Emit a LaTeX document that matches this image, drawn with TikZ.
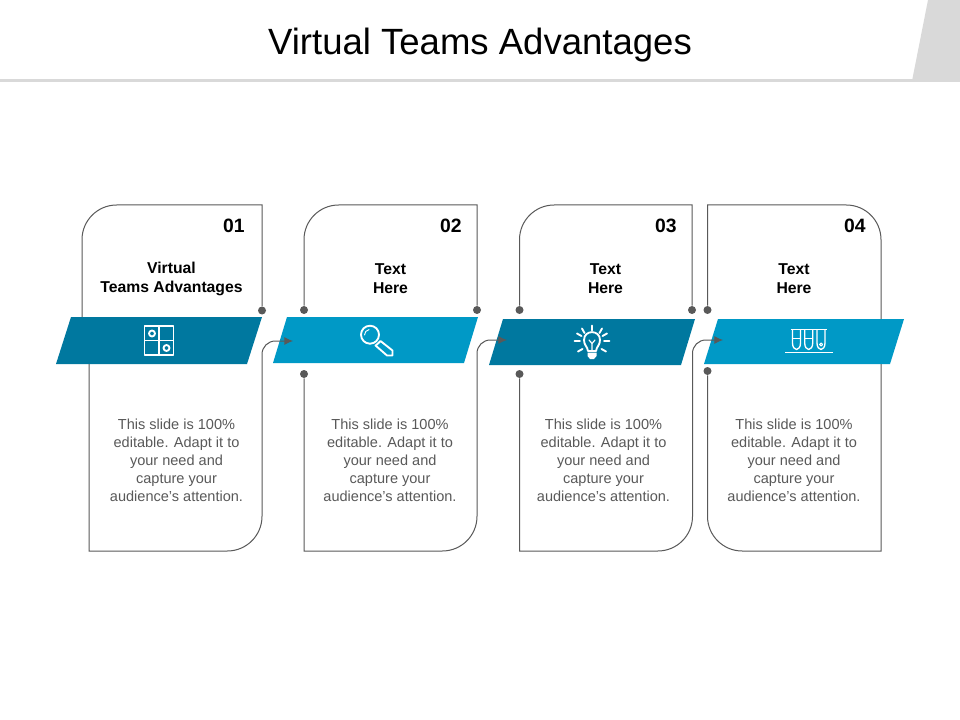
\documentclass[tikz,border=0pt]{standalone}
\usepackage{fontspec}
\setmainfont{Liberation Sans}
\usetikzlibrary{arrows.meta}
\definecolor{darkblue}{HTML}{00789F}
\definecolor{lightblue}{HTML}{0099C6}
\definecolor{linegray}{HTML}{595959}
\definecolor{bandgray}{HTML}{D9D9D9}
\tikzset{
  cardline/.style={draw=linegray,line width=0.75pt},
  flowline/.style={cardline,-{Latex[length=6.5pt,width=6pt,color=linegray]}},
  pin/.style={circle,fill=linegray,inner sep=0pt,minimum size=6pt},
  numlabel/.style={font=\fontsize{14.5}{17}\selectfont\bfseries,anchor=east,inner sep=0pt},
  headlabel/.style={font=\fontsize{11.8}{14.25}\selectfont\bfseries,align=center,inner sep=0pt},
  bodylabel/.style={font=\fontsize{10.9}{13.5}\selectfont,text=linegray,align=center,inner sep=0pt},
  icon/.style={draw=white,line width=1.4pt,line join=round,line cap=round},
}
\begin{document}
\begin{tikzpicture}[x=0.75pt,y=-0.75pt]
\useasboundingbox (0,0) rectangle (960,720);
\fill[white] (0,0) rectangle (960,720);
% header
\fill[bandgray] (0,79) rectangle (960,82);
\fill[bandgray] (928,0) -- (960,0) -- (960,81) -- (912,81) -- cycle;
\node[font=\fontsize{27.4}{32}\selectfont,inner sep=0pt] (title) at (480,45) {Virtual Teams Advantages};
% bands
\fill[darkblue] (71,317) -- (262,317) -- (247,364) -- (56,364) -- cycle;
\fill[lightblue] (287,317) -- (478,317) -- (464,363) -- (273,363) -- cycle;
\fill[darkblue] (503,319) -- (695,319) -- (681,365) -- (489,365) -- cycle;
\fill[lightblue] (718,319) -- (904,319) -- (890,364) -- (704,364) -- cycle;
% pins
\node[pin] (p1a) at (262,310.5) {};
\node[pin] (p2a) at (304,310) {};
\node[pin] (p2b) at (304,374) {};
\node[pin] (p2c) at (477,310) {};
\node[pin] (p3a) at (519.5,310) {};
\node[pin] (p3b) at (519.5,374) {};
\node[pin] (p3c) at (692,310) {};
\node[pin] (p4a) at (707.5,310) {};
\node[pin] (p4b) at (707.5,371) {};
% free ends
\coordinate (c1s) at (82,317);
\coordinate (c1b) at (89,364);
\coordinate (a1) at (293,341);
\coordinate (a2) at (507,340);
\coordinate (a3) at (723,340);
\coordinate (c4e) at (881,319);
\coordinate (c4f) at (881,364);
% upper card outlines
\draw[cardline,rounded corners=26pt] (c1s) -- (82,205) [sharp corners] -- (262,205) -- (p1a);
\draw[cardline,rounded corners=26pt] (p2a) -- (304,205) [sharp corners] -- (477,205) -- (p2c);
\draw[cardline,rounded corners=26pt] (p3a) -- (519.5,205) [sharp corners] -- (692,205) -- (p3c);
\draw[cardline] (p4a) -- (707.5,205) [rounded corners=26pt] -- (881,205) -- (c4e);
% lower card outlines with arrows
\draw[flowline] (c1b) -- (89,551) [rounded corners=26pt] -- (262,551) [rounded corners=10pt] -- (262,341) -- (a1);
\draw[flowline] (p2b) -- (304,551) [rounded corners=26pt] -- (477,551) [rounded corners=10pt] -- (477,340) -- (a2);
\draw[flowline] (p3b) -- (519.5,551) [rounded corners=26pt] -- (692.5,551) [rounded corners=10pt] -- (692.5,340) -- (a3);
\draw[cardline,rounded corners=26pt] (p4b) -- (707.5,551) [sharp corners] -- (881,551) -- (c4f);
% numbers
\node[numlabel] (n1) at (245,226) {01};
\node[numlabel] (n2) at (462,226) {02};
\node[numlabel] (n3) at (677,226) {03};
\node[numlabel] (n4) at (866,226) {04};
% headings
\node[headlabel] (h1) at (171.5,278.5) {Virtual\\Teams Advantages};
\node[headlabel] (h2) at (390.5,278.5) {Text\\Here};
\node[headlabel] (h3) at (605.5,278.5) {Text\\Here};
\node[headlabel] (h4) at (794,278.5) {Text\\Here};
% body
\node[bodylabel] (b1) at (176.5,460) {This slide is 100\%\\editable. Adapt it to\\your need and\\capture your\\audience's attention.};
\node[bodylabel] (b2) at (390,460) {This slide is 100\%\\editable. Adapt it to\\your need and\\capture your\\audience's attention.};
\node[bodylabel] (b3) at (603.5,460) {This slide is 100\%\\editable. Adapt it to\\your need and\\capture your\\audience's attention.};
\node[bodylabel] (b4) at (794,460) {This slide is 100\%\\editable. Adapt it to\\your need and\\capture your\\audience's attention.};
% icon 1
\draw[icon,line cap=butt] (144.5,326) rectangle (173.5,355);
\draw[icon,line cap=butt] (159,326) -- (159,355) (144.5,340.5) -- (173.5,340.5);
\draw[icon] (152,333.5) circle (3*0.75pt);
\draw[icon] (166.5,348) circle (3*0.75pt);
% icon 2
\draw[icon] (370,334.7) circle (9*0.75pt);
\draw[icon,line width=0.7pt] (364.5,335) arc[start angle=180,end angle=100,radius=5.5*0.75pt];
\draw[icon] (378,343.5) -- (380.5,341) -- (392.5,350.5) -- (392.5,355.5) -- (387,355.5) -- (375.5,345.5) -- cycle;
% icon 3
\draw[icon] (588,351) .. controls (587.5,346.5) and (584,345.5) .. (584,340) .. controls (584,329.5) and (600,329.5) .. (600,340) .. controls (600,345.5) and (596.5,346.5) .. (596,351) -- cycle;
\draw[icon,line width=0.9pt] (589,340) -- (592,343.5) -- (595,340) (592,343.5) -- (592,351);
\fill[white] (587.5,352.5) -- (596.5,352.5) -- (596.5,356) -- (594,359) -- (590,359) -- (587.5,356) -- cycle;
\draw[icon] (592,325.5) -- (592,330.5)
  (582,328.5) -- (584.5,333) (602,328.5) -- (599.5,333)
  (574.5,341) -- (580,341) (604,341) -- (609.5,341)
  (577,333.5) -- (581.5,336) (607,333.5) -- (602.5,336)
  (578,351.5) -- (582.5,349) (606,351.5) -- (601.5,349);
% icon 4
\draw[icon,line cap=butt] (790.5,329.5) -- (826.7,329.5);
\draw[icon,line cap=butt,line width=0.9pt] (785,352.3) -- (832.7,352.3);
\foreach \tx in {796.5,808.7,821}{
  \draw[icon,line width=1pt] (\tx-4,330) -- (\tx-4,343) .. controls (\tx-4,347) and (\tx-2,349.5) .. (\tx,349.5) .. controls (\tx+2,349.5) and (\tx+4,347) .. (\tx+4,343) -- (\tx+4,330);
}
\draw[icon,line width=0.8pt] (792.5,338.5) -- (800.5,338.5) (804.7,338.5) -- (812.7,338.5);
\draw[icon,line width=0.8pt] (821,344.5) circle (1.5*0.75pt);
\end{tikzpicture}
\end{document}
